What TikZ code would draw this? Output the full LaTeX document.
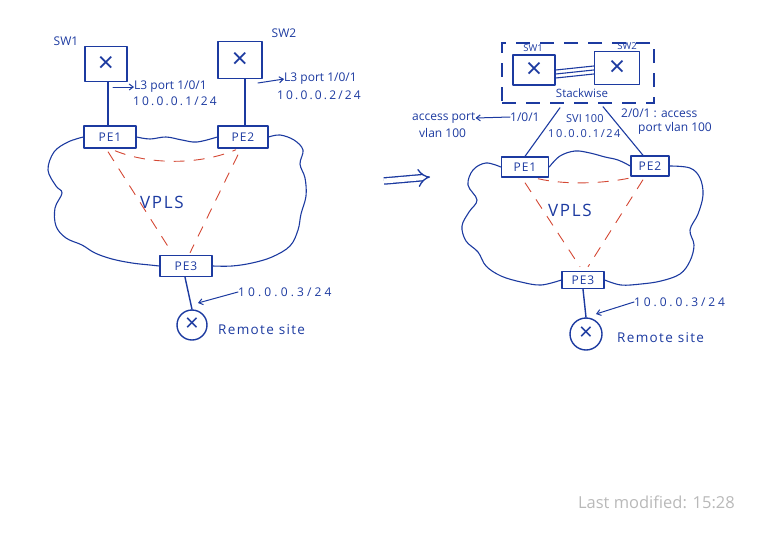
\documentclass[tikz,border=0pt]{standalone}
\usepackage{fontspec}
\setmainfont{Open Sans}
\newfontfamily\uifont{Open Sans}
\usetikzlibrary{arrows.meta}
\definecolor{inkblue}{RGB}{28,58,160}
\definecolor{inkred}{RGB}{212,72,52}
\definecolor{stampgray}{RGB}{185,185,185}
\begin{document}
\begin{tikzpicture}[x=1pt,y=-1pt,
  ink/.style={draw=inkblue, line width=1.4pt, line cap=round, line join=round},
  devbox/.style={ink, inner sep=0pt, text=inkblue, font=\fontsize{28}{28}\selectfont},
  pebox/.style={ink, inner sep=0pt, text=inkblue, font=\fontsize{12}{12}\selectfont\addfontfeature{LetterSpace=8}},
  lbl/.style={text=inkblue, inner sep=0pt, font=\fontsize{12}{13}\selectfont},
  iplbl/.style={text=inkblue, inner sep=0pt, font=\fontsize{12}{13}\selectfont\addfontfeature{LetterSpace=#1}},
  small/.style={text=inkblue, inner sep=0pt, font=\fontsize{9.5}{10}\selectfont},
  big/.style={text=inkblue, inner sep=0pt, font=\fontsize{17}{18}\selectfont\addfontfeature{LetterSpace=10}},
  site/.style={text=inkblue, inner sep=0pt, font=\fontsize{13.5}{14}\selectfont\addfontfeature{LetterSpace=10}},
  vpls/.style={draw=inkred, line width=0.9pt, dash pattern=on 11pt off 9pt},
  cloudline/.style={ink, line width=1.1pt},
  pointer/.style={ink, line width=1pt, -{Straight Barb[length=4pt,width=6pt]}},
  remote/.style={ink, circle, minimum size=30pt, inner sep=0pt, text=inkblue, font=\fontsize{24}{24}\selectfont}
]
\useasboundingbox (0,0) rectangle (758,536);

% ================= LEFT =================
\node[lbl] (sw1lab) at (66,41) {SW1};
\node[lbl] (sw2lab) at (284,33) {SW2};
\node[devbox, minimum width=42pt, minimum height=35pt] (sw1) at (106,64) {×};
\node[devbox, minimum width=44pt, minimum height=37pt] (sw2) at (240,60) {×};
\node[pebox, minimum width=52pt, minimum height=22pt] (pe1) at (110,137) {PE1};
\node[pebox, minimum width=50pt, minimum height=22pt] (pe2) at (243,137) {PE2};
\node[pebox, minimum width=52pt, minimum height=21pt] (pe3) at (186,266) {PE3};
\node[remote] (rem1) at (192,325) {×};

\draw[ink] ([xshift=2pt]sw1.south) -- ([xshift=2pt]sw1.south |- pe1.north);
\draw[ink] ([xshift=5pt]sw2.south) -- ([xshift=5pt]sw2.south |- pe2.north);
\draw[ink] ([xshift=-1pt]pe3.south) -- (rem1.north);

% labels
\node[lbl, anchor=west] (l3a1) at (134,87) {L3 port 1/0/1};
\node[iplbl=18, anchor=west] (ipa1) at (133,101) {10.0.0.1/24};
\coordinate (pa1) at (113,87);
\draw[pointer] (pa1) -- (l3a1.west);
\node[lbl, anchor=west] (l3a2) at (284,79) {L3 port 1/0/1};
\node[iplbl=18, anchor=west] (ipa2) at (277,95) {10.0.0.2/24};
\coordinate (pa2) at (258,83);
\draw[pointer] (pa2) -- (l3a2.west);
\node[big] (vplsl) at (162,202) {VPLS};
\node[iplbl=26, anchor=west] (ip3l) at (238,292) {10.0.0.3/24};
\coordinate (pa3) at (198,303);
\draw[pointer] (ip3l.west) -- (pa3);
\node[site, anchor=west] (rsl) at (218,330) {Remote site};

% cloud left
\draw[cloudline] plot[smooth, tension=0.6] coordinates {(pe1.west) (68,142) (54,152) (48,170) (56,186) (62,193) (55,208) (56,226) (66,238) (82,245) (95,253) (112,259) (132,263) (150,265) (pe3.west)};
\draw[cloudline] plot[smooth, tension=0.6] coordinates {(pe3.east) (232,266) (252,263) (272,257) (290,246) (298,230) (301,214) (306,196) (305,178) (300,164) (303,150) (294,140) (280,135) (pe2.east)};
\draw[cloudline] plot[smooth, tension=0.6] coordinates {(pe1.east) (150,139) (166,137) (182,140) (197,142) (pe2.west)};

% vpls left
\draw[vpls] ([xshift=5pt,yshift=-2pt]pe1.south) .. controls (150,165) and (200,165) .. ([xshift=-7pt,yshift=-1pt]pe2.south);
\draw[vpls] ([xshift=-2pt,yshift=-3pt]pe1.south) -- ([xshift=-14pt,yshift=2pt]pe3.north);
\draw[vpls] ([xshift=-5pt,yshift=-6pt]pe2.south) -- ([xshift=4pt,yshift=2pt]pe3.north);

% ================= ARROW =================
\coordinate (ia) at (384,181);
\coordinate (ib) at (430,177);
\draw[draw=inkblue, line width=1.3pt, double distance=5pt, -{Implies[length=9pt]}] (ia) -- (ib);

% ================= RIGHT =================
\node[draw=inkblue, line width=1.4pt, dash pattern=on 14pt off 10pt, minimum width=152pt, minimum height=60pt, inner sep=0pt] (stack) at (578,73) {};
\node[devbox, minimum width=42pt, minimum height=30pt] (sw1r) at (534,70) {×};
\node[devbox, minimum width=45pt, minimum height=33pt] (sw2r) at (617,68) {×};
\node[small] (sw1rlab) at (533,48) {SW1};
\node[small] (sw2rlab) at (627,46) {SW2};
\node[text=inkblue, inner sep=0pt, font=\fontsize{11.5}{12}\selectfont] (stackw) at (582,93) {Stackwise};
\draw[ink, line width=1.1pt] ([yshift=0pt]sw1r.east) -- ([yshift=2pt]sw2r.west);
\draw[ink, line width=1.1pt] ([yshift=-4pt]sw1r.east) -- ([yshift=-2pt]sw2r.west);
\draw[ink, line width=1.1pt] ([yshift=-8pt]sw1r.east) -- ([yshift=-6pt]sw2r.west);

\node[pebox, minimum width=47pt, minimum height=20pt] (pe1r) at (525,167) {PE1};
\node[pebox, minimum width=38pt, minimum height=20pt] (pe2r) at (650,166) {PE2};
\node[pebox, minimum width=42pt, minimum height=17pt] (pe3r) at (583,280) {PE3};
\node[remote, minimum size=32pt] (rem2) at (586,334) {×};

\draw[ink, line width=1.1pt] ([xshift=-18pt,yshift=-4pt]stack.south) -- (pe1r.north);
\draw[ink, line width=1.1pt] ([xshift=25pt,yshift=-3pt]stack.south) -- ([xshift=-7pt]pe2r.north);
\draw[ink] (pe3r.south) -- (rem2.north);

% right labels
\node[lbl, anchor=west] (accl) at (412,118) {access port};
\node[lbl, anchor=west] (p101) at (510,117) {1/0/1};
\draw[pointer] (p101.west) -- (accl.east);
\node[lbl, anchor=west] (vlanl) at (419,133) {vlan 100};
\node[lbl, anchor=west, font=\fontsize{11}{12}\selectfont] (svi) at (566,119) {SVI 100};
\node[iplbl=14, anchor=west, font=\fontsize{11}{12}\selectfont\addfontfeature{LetterSpace=14}] (sviip) at (548,134) {10.0.0.1/24};
\node[lbl, anchor=west] (p201) at (621,113) {2/0/1 : access};
\node[lbl, anchor=west] (pvl) at (638,128) {port vlan 100};
\node[big] (vplsr) at (570,210) {VPLS};
\node[iplbl=24, anchor=west] (ip3r) at (634,302) {10.0.0.3/24};
\coordinate (pb3) at (596,314);
\draw[pointer] (ip3r.west) -- (pb3);
\node[site, anchor=west] (rsr) at (617,338) {Remote site};

% cloud right
\draw[cloudline] plot[smooth, tension=0.6] coordinates {(pe1r.west) (486,163) (473,170) (468,185) (477,200) (469,212) (462,226) (466,241) (478,252) (486,266) (501,276) (521,282) (541,285) (pe3r.west)};
\draw[cloudline] plot[smooth, tension=0.6] coordinates {(pe3r.east) (621,285) (641,284) (661,281) (680,274) (690,261) (694,245) (690,230) (698,214) (703,195) (700,178) (690,168) (pe2r.east)};
\draw[cloudline] plot[smooth, tension=0.6] coordinates {(pe1r.east) (560,156) (575,151) (590,153) (605,157) (618,160) (pe2r.west)};

% vpls right
\draw[vpls] ([xshift=13pt,yshift=-1pt]pe1r.south) .. controls (565,185) and (605,184) .. ([xshift=-14pt,yshift=0pt]pe2r.south);
\draw[vpls] ([xshift=0pt,yshift=-5pt]pe1r.south) -- ([xshift=-3pt,yshift=4pt]pe3r.north);
\draw[vpls] ([xshift=-7pt,yshift=-3pt]pe2r.south) -- ([xshift=5pt,yshift=4pt]pe3r.north);

% ================= STAMP =================
\node[anchor=east, inner sep=0pt, text=stampgray, font=\uifont\fontsize{16.5}{18}\selectfont] (stamp) at (735,502) {Last modified: 15:28};
\end{tikzpicture}
\end{document}
